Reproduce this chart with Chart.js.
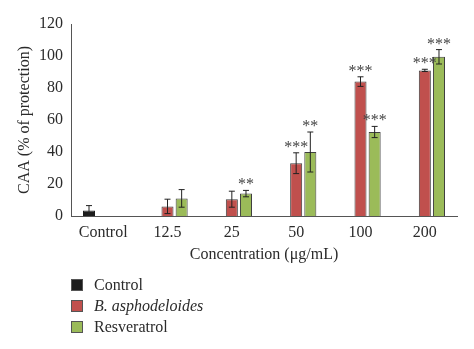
<!DOCTYPE html>
<html>
<head>
<meta charset="utf-8">
<script src="https://cdn.jsdelivr.net/npm/chart.js@4/dist/chart.umd.min.js"></script>
<style>
  html, body { margin: 0; padding: 0; background: #fff; }
  #wrap { width: 474px; height: 349px; position: relative; }
</style>
</head>
<body>
<div id="wrap"><canvas id="caaChart"></canvas></div>
<script>
const concentrations = ['Control', '12.5', '25', '50', '100', '200'];

const controlValues = [3.5, null, null, null, null, null];
const controlErrors = [3, null, null, null, null, null];

const asphValues = [null, 6, 10.5, 33, 84, 91];
const asphErrors = [null, 4.5, 5, 6.5, 3, 0.7];
const asphStars = ['', '', '', '***', '***', '***'];

const resvValues = [null, 11, 14, 40, 52.5, 99.5];
const resvErrors = [null, 5.5, 2, 12.5, 3.5, 4.5];
const resvStars = ['', '', '**', '**', '***', '***'];

const yTicks = [0, 20, 40, 60, 80, 100, 120];

const serif = '"Liberation Serif", "DejaVu Serif", serif';
const inkColor = '#2b2b2b';

// error bars and significance marks on top of the bars
const errorBarPlugin = {
  id: 'errorBars',
  afterDatasetsDraw(chart) {
    const ctx = chart.ctx;
    const yScale = chart.scales.y;
    chart.data.datasets.forEach((ds, i) => {
      const meta = chart.getDatasetMeta(i);
      ds.data.forEach((v, j) => {
        if (v === null) return;
        const bar = meta.data[j];
        const err = ds.errors[j] || 0;
        const yTop = yScale.getPixelForValue(v + err);
        const yBot = yScale.getPixelForValue(v - err);
        ctx.save();
        ctx.strokeStyle = '#222';
        ctx.lineWidth = 1;
        ctx.beginPath();
        ctx.moveTo(bar.x, yTop);
        ctx.lineTo(bar.x, yBot);
        ctx.moveTo(bar.x - 3, yTop);
        ctx.lineTo(bar.x + 3, yTop);
        ctx.moveTo(bar.x - 3, yBot);
        ctx.lineTo(bar.x + 3, yBot);
        ctx.stroke();
        const star = ds.stars ? ds.stars[j] : '';
        if (star) {
          ctx.fillStyle = '#444';
          ctx.font = '16px ' + serif;
          ctx.textAlign = 'center';
          ctx.textBaseline = 'alphabetic';
          ctx.fillText(star, bar.x, yTop - 1);
        }
        ctx.restore();
      });
    });
  }
};

// vertical legend under the x axis title
const stackedLegend = {
  id: 'stackedLegend',
  afterDraw(chart) {
    const ctx = chart.ctx;
    const x0 = chart.chartArea.left;
    let y = 285;
    chart.data.datasets.forEach(ds => {
      ctx.save();
      ctx.fillStyle = ds.backgroundColor;
      ctx.strokeStyle = '#555';
      ctx.lineWidth = 1;
      ctx.fillRect(x0, y - 6, 12, 12);
      ctx.strokeRect(x0 + 0.5, y - 5.5, 11, 11);
      ctx.fillStyle = inkColor;
      ctx.font = (ds.italic ? 'italic ' : '') + '16px ' + serif;
      ctx.textAlign = 'left';
      ctx.textBaseline = 'middle';
      ctx.fillText(ds.label, x0 + 23, y + 1);
      ctx.restore();
      y += 21;
    });
  }
};

const ctx = document.getElementById('caaChart').getContext('2d');

const caaChart = new Chart(ctx, {
  type: 'bar',
  data: {
    labels: concentrations,
    datasets: [
      {
        label: 'Control',
        data: controlValues,
        errors: controlErrors,
        backgroundColor: '#1c1c1c',
        borderColor: '#1c1c1c',
        borderWidth: 1
      },
      {
        label: 'B. asphodeloides',
        italic: true,
        data: asphValues,
        errors: asphErrors,
        stars: asphStars,
        backgroundColor: '#c0504d',
        borderColor: '#3f3f3f',
        borderWidth: 1
      },
      {
        label: 'Resveratrol',
        data: resvValues,
        errors: resvErrors,
        stars: resvStars,
        backgroundColor: '#9bbb59',
        borderColor: '#3f3f3f',
        borderWidth: 1
      }
    ]
  },
  options: {
    responsive: true,
    maintainAspectRatio: false,
    animation: false,
    layout: { padding: { top: 24, right: 17, bottom: 85, left: 15 } },
    datasets: {
      bar: { categoryPercentage: 0.66, barPercentage: 0.85 }
    },
    plugins: {
      legend: { display: false },
      tooltip: { enabled: false }
    },
    scales: {
      x: {
        grid: { display: false, drawTicks: false },
        border: { display: true, color: '#555', width: 1 },
        ticks: { color: inkColor, font: { family: serif, size: 16 }, padding: 7 },
        title: {
          display: true,
          text: 'Concentration (\u03bcg/mL)',
          color: inkColor,
          font: { family: serif, size: 16 },
          padding: { top: 2, bottom: 0 }
        },
        afterFit(scale) { scale.height = 48; }
      },
      y: {
        min: 0,
        max: 120,
        grid: { display: false, drawTicks: false },
        border: { display: true, color: '#555', width: 1 },
        afterBuildTicks(scale) { scale.ticks = yTicks.map(v => ({ value: v })); },
        ticks: { color: inkColor, font: { family: serif, size: 16 }, padding: 8 },
        title: {
          display: true,
          text: 'CAA (% of protection)',
          color: inkColor,
          font: { family: serif, size: 16 },
          padding: { top: 0, bottom: 4 }
        },
        afterFit(scale) { scale.width = 56; }
      }
    }
  },
  plugins: [errorBarPlugin, stackedLegend]
});
</script>
</body>
</html>
